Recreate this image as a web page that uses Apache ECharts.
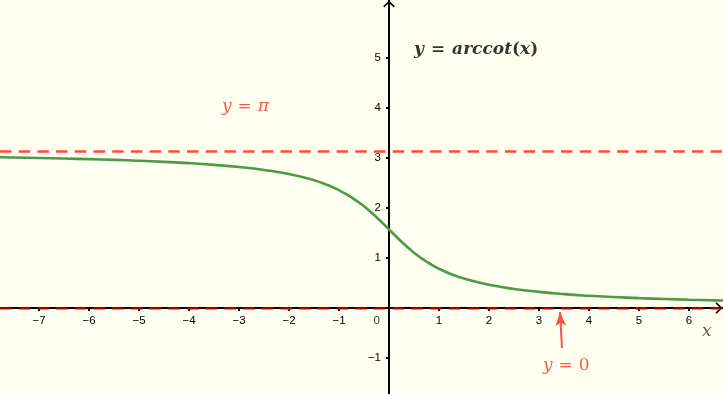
<!DOCTYPE html>
<html>
<head>
<meta charset="utf-8">
<script src="https://cdn.jsdelivr.net/npm/echarts@6/dist/echarts.min.js"></script>
<style>
html,body{margin:0;padding:0;background:#FFFFEF;}
#c{width:723px;height:394px;}
</style>
</head>
<body>
<div id="c"></div>
<script>
// curve values
const curveX = [-7.78, -7.5, -7, -6.5, -6, -5.5, -5, -4.5, -4, -3.5, -3, -2.5, -2, -1.5, -1.25, -1, -0.75, -0.5, -0.25, 0, 0.25, 0.5, 0.75, 1, 1.25, 1.5, 2, 2.5, 3, 3.5, 4, 4.5, 5, 5.5, 6, 6.5, 6.68];
const curveY = [3.014, 3.009, 3.000, 2.989, 2.977, 2.962, 2.944, 2.923, 2.897, 2.863, 2.820, 2.761, 2.678, 2.554, 2.467, 2.356, 2.214, 2.034, 1.816, 1.571, 1.326, 1.107, 0.927, 0.785, 0.675, 0.588, 0.464, 0.381, 0.322, 0.278, 0.245, 0.219, 0.197, 0.180, 0.165, 0.153, 0.149];
const xTickValues = [-7, -6, -5, -4, -3, -2, -1, 1, 2, 3, 4, 5, 6];
const yTickValues = [-1, 1, 2, 3, 4, 5];
const asymptoteY = [3.1416, 0];
const arrowStart = [3.46, -0.8];
const arrowEnd = [3.42, -0.08];

const X_MIN = -7.78, X_MAX = 6.68, Y_MIN = -1.72, Y_MAX = 6.16;
const W = 723, H = 394;

const minus = v => String(v).replace('-', '\u2212');
const chevron = 'path://M0,0 L10,10 L8,12 L0,4 L-8,12 L-10,10 Z';
const dashRed = 'rgba(255,0,0,0.72)';

// place axes through the origin using the library's own pixel scale
const xAxisOffset = -(0 - Y_MIN) / (Y_MAX - Y_MIN) * H;
const yAxisOffset = -(0 - X_MIN) / (X_MAX - X_MIN) * W;

const mathFont = 'DejaVu Serif';
const chart = echarts.init(document.getElementById('c'), null, {renderer: 'canvas'});
chart.setOption({
  backgroundColor: '#FFFFEF',
  animation: false,
  grid: {left: 0, right: 0, top: 0, bottom: 0, containLabel: false, outerBoundsMode: 'none'},
  xAxis: {
    type: 'value', min: X_MIN, max: X_MAX, position: 'bottom', offset: xAxisOffset,
    axisLine: {onZero: false, lineStyle: {color: '#000', width: 2}, symbol: ['none', chevron], symbolSize: [12, 7], symbolOffset: [0, -4]},
    axisTick: {show: true, customValues: xTickValues, length: 3, lineStyle: {color: '#000', width: 2}},
    axisLabel: {customValues: xTickValues, formatter: minus, color: '#000', fontFamily: 'Liberation Sans', fontSize: 11.5, margin: 7},
    splitLine: {show: false}
  },
  yAxis: {
    type: 'value', min: Y_MIN, max: Y_MAX, position: 'left', offset: yAxisOffset,
    axisLine: {onZero: false, lineStyle: {color: '#000', width: 2}, symbol: ['none', chevron], symbolSize: [12, 7], symbolOffset: [0, -4]},
    axisTick: {show: true, customValues: yTickValues, length: 3, lineStyle: {color: '#000', width: 2}},
    axisLabel: {customValues: yTickValues, formatter: minus, color: '#000', fontFamily: 'Liberation Sans', fontSize: 11.5, margin: 8},
    splitLine: {show: false}
  },
  series: [
    {
      type: 'line', name: 'arccot',
      data: curveX.map((x, i) => [x, curveY[i]]),
      smooth: true, showSymbol: false, clip: true, z: 4,
      lineStyle: {color: '#4c994c', width: 2.6}
    },
    {
      type: 'line', data: [], z: 5,
      markLine: {
        silent: true, symbol: 'none', label: {show: false},
        lineStyle: {color: dashRed, width: 2.5, type: [11.5, 7.2]},
        data: asymptoteY.map(v => ({yAxis: v}))
      }
    },
    {
      type: 'line', data: [], z: 5,
      markLine: {
        silent: true, symbol: ['none', 'arrow'], symbolSize: [8, 14], label: {show: false},
        lineStyle: {color: '#ff4d4d', width: 2, type: 'solid'},
        data: [[{coord: arrowStart}, {coord: arrowEnd}]]
      }
    },
    {
      type: 'scatter', symbolSize: 0, z: 6, silent: true,
      label: {show: true, position: 'right', distance: 0, fontFamily: mathFont, fontSize: 17},
      data: [
        {value: [0.5, 5.16], label: {formatter: '{i|y}{n|=}{i|arccot}{p|(}{i|x}{p|)}', rich: {
          i: {fontFamily: mathFont, fontStyle: 'italic', fontWeight: 'bold', fontSize: 17, color: '#000'},
          p: {fontFamily: mathFont, fontWeight: 'bold', fontSize: 17, color: '#000'},
          n: {fontFamily: mathFont, fontWeight: 'bold', fontSize: 17, color: '#000', padding: [0, 7, 0, 7]}}}},
        {value: [-3.34, 4.02], label: {formatter: '{i|y}{n|=}{i|\u03c0}', rich: {
          i: {fontFamily: mathFont, fontStyle: 'italic', fontSize: 17, color: '#ff2a2a'},
          n: {fontFamily: mathFont, fontSize: 17, color: '#ff2a2a', padding: [0, 6, 0, 6]}}}},
        {value: [3.08, -1.16], label: {formatter: '{i|y}{n|=}{d|0}', rich: {
          i: {fontFamily: mathFont, fontStyle: 'italic', fontSize: 17, color: '#ff2a2a'},
          n: {fontFamily: mathFont, fontSize: 17, color: '#ff2a2a', padding: [0, 6, 0, 6]},
          d: {fontFamily: mathFont, fontSize: 17, color: '#ff2a2a'}}}},
        {value: [6.26, -0.48], label: {formatter: 'x', fontFamily: mathFont, fontStyle: 'italic', fontSize: 17, color: '#333'}},
        {value: [-0.31, -0.25], label: {formatter: '0', fontFamily: 'Liberation Sans', fontSize: 11.5, color: '#000'}}
      ]
    }
  ]
});
</script>
</body>
</html>
